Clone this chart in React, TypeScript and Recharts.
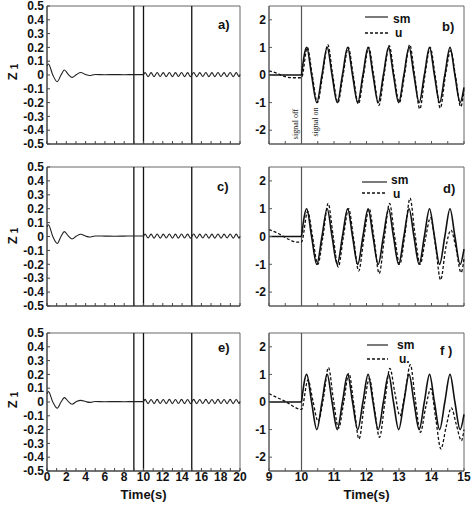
import React from 'react';
import { LineChart, Line, XAxis, YAxis, ReferenceLine, ReferenceArea, Customized } from 'recharts';

const FONT = '"Liberation Sans", Arial, Helvetica, sans-serif';
const SERIF = '"Liberation Serif", "Times New Roman", serif';

// ---------- left column: Z1 versus time ----------
const zTime = [
  0, 0.15, 0.6, 1.06, 1.45, 1.8, 2.2, 2.6, 3.05, 3.5, 4.0, 4.4, 5.0, 6.0, 7.0, 8.0, 9.0, 10.0,
  10.16, 10.47, 10.79, 11.1, 11.42, 11.73, 12.05, 12.36, 12.68, 12.99, 13.31, 13.62, 13.94, 14.25,
  14.57, 14.88, 15.2, 15.51, 15.83, 16.14, 16.46, 16.77, 17.09, 17.4, 17.72, 18.03, 18.35, 18.66,
  18.98, 19.29, 19.61, 19.92, 20,
];
const zA = [
  0.065, 0.08, 0.0, -0.048, 0.0, 0.036, 0.005, -0.017, 0.003, 0.018, 0.003, -0.004, 0.004, 0.002, 0.003, 0.002, 0.003, 0.003,
  0.018, -0.012, 0.017, -0.012, 0.018, -0.011, 0.017, -0.012, 0.018, -0.012, 0.017, -0.011,
  0.018, -0.012, 0.017, -0.012, 0.018, -0.012, 0.017, -0.011, 0.018, -0.012, 0.017, -0.012,
  0.018, -0.011, 0.017, -0.012, 0.018, -0.012, 0.017, -0.012, 0.004,
];
const zC = [
  0.07, 0.085, 0.0, -0.05, 0.0, 0.035, 0.004, -0.018, 0.003, 0.016, 0.003, -0.004, 0.004, 0.003, 0.002, 0.003, 0.004, 0.004,
  0.018, -0.011, 0.017, -0.012, 0.018, -0.012, 0.017, -0.011, 0.018, -0.012, 0.017, -0.012,
  0.018, -0.011, 0.017, -0.012, 0.018, -0.012, 0.017, -0.011, 0.018, -0.012, 0.017, -0.012,
  0.018, -0.012, 0.017, -0.011, 0.018, -0.012, 0.017, -0.012, 0.003,
];
const zE = [
  0.06, 0.075, 0.0, -0.045, 0.0, 0.032, 0.004, -0.016, 0.003, 0.012, 0.003, -0.003, 0.004, 0.002, 0.003, 0.002, 0.003, 0.003,
  0.019, -0.012, 0.018, -0.012, 0.019, -0.011, 0.018, -0.012, 0.019, -0.012, 0.018, -0.011,
  0.019, -0.012, 0.018, -0.012, 0.019, -0.012, 0.018, -0.011, 0.019, -0.012, 0.018, -0.012,
  0.019, -0.011, 0.018, -0.012, 0.019, -0.012, 0.018, -0.012, 0.004,
];
const zYTicks = [-0.5, -0.4, -0.3, -0.2, -0.1, 0, 0.1, 0.2, 0.3, 0.4, 0.5];
const zXTicks = [0, 1, 2, 3, 4, 5, 6, 7, 8, 9, 10, 11, 12, 13, 14, 15, 16, 17, 18, 19, 20];
const zEvents = [9, 10, 15];

// ---------- right column: sm and u ----------
const smPreTime = [9, 10];
const smPre = [0, 0];
const smTime = [
  10, 10.16, 10.31, 10.47, 10.63, 10.79, 10.94, 11.1, 11.26, 11.42, 11.57, 11.73, 11.89, 12.05, 12.2, 12.36,
  12.52, 12.68, 12.83, 12.99, 13.15, 13.31, 13.46, 13.62, 13.78, 13.94, 14.09, 14.25, 14.41, 14.57, 14.72, 14.88, 15,
];
const smValues = [
  0, 1, 0, -1, 0, 1, 0, -1, 0, 1, 0, -1, 0, 1, 0, -1,
  0, 1, 0, -1, 0, 1, 0, -1, 0, 1, 0, -1, 0, 1, 0, -1, -0.45,
];
const uTimeB = [
  9, 9.25, 9.5, 9.75, 10, 10.18, 10.33, 10.49, 10.65, 10.81, 10.96, 11.12, 11.28, 11.44, 11.59, 11.75, 11.91,
  12.07, 12.22, 12.38, 12.54, 12.7, 12.85, 13.01, 13.17, 13.33, 13.48, 13.64, 13.8, 13.96, 14.11, 14.27, 14.43,
  14.59, 14.74, 14.9, 15,
];
const uB = [
  0.15, 0.06, -0.06, -0.1, -0.1,
  1.0, 0.0, -1.0, 0.0,
  1.1, 0.0, -1.0, 0.0,
  1.0, 0.0, -1.05, 0.0,
  1.0, 0.0, -1.1, 0.0,
  1.06, 0.0, -1.0, 0.0,
  1.1, 0.0, -1.23, 0.0,
  1.0, 0.0, -1.2, 0.0,
  0.88, -0.05, -1.15,
  -0.55,
];
const uTimeD = [
  9, 9.3, 9.6, 9.85, 10, 10.19, 10.34, 10.5, 10.66, 10.82, 10.97, 11.13, 11.29, 11.45, 11.6, 11.76, 11.92,
  12.08, 12.23, 12.39, 12.55, 12.71, 12.86, 13.02, 13.18, 13.34, 13.49, 13.65, 13.81, 13.97, 14.12, 14.28, 14.44,
  14.6, 14.75, 14.91, 15,
];
const uD = [
  0.25, 0.1, -0.1, -0.2, -0.2,
  0.9, 0.0, -1.0, 0.0,
  1.19, 0.05, -1.1, 0.0,
  1.0, -0.05, -1.24, -0.05,
  1.0, -0.05, -1.33, -0.05,
  1.19, 0.05, -1.0, 0.05,
  1.38, 0.1, -1.0, -0.1,
  0.68, -0.3, -1.56, -0.4,
  0.23, -0.4, -1.3,
  -0.8,
];
const uTimeF = [
  9, 9.5, 10, 10.2, 10.35, 10.51, 10.67, 10.83, 10.98, 11.14, 11.3, 11.46, 11.61, 11.77, 11.93,
  12.09, 12.24, 12.4, 12.56, 12.72, 12.87, 13.03, 13.19, 13.35, 13.5, 13.66, 13.82, 13.98, 14.13, 14.29, 14.45,
  14.61, 14.76, 14.92, 15,
];
const uF = [
  0.3, 0.02, -0.27,
  0.8, 0.05, -0.7, 0.1,
  1.25, 0.1, -0.95, 0.0,
  1.04, -0.1, -1.34, -0.1,
  0.85, -0.2, -1.28, -0.05,
  1.22, 0.35, -0.5, 0.35,
  1.35, 0.1, -1.1, -0.2,
  0.48, -0.6, -1.7, -0.9,
  -0.21, -0.8, -1.4,
  -1.0,
];
const rYTicks = [-2, -1, 0, 1, 2];
const rXTicks = [9, 9.5, 10, 10.5, 11, 11.5, 12, 12.5, 13, 13.5, 14, 14.5, 15];
const signalEvent = 10;
const legendNames = ['sm', 'u'];
const panelNames = ['a)', 'b)', 'c)', 'd)', 'e)', 'f )'];

const zip = (t: number[], v: number[]) => t.map((x, i) => ({ t: x, v: v[i] }));

const tickStyle = { fontSize: 12, fontWeight: 'bold' as const, fill: '#111', fontFamily: FONT };
const textStyle = { fontSize: 13, fontWeight: 'bold' as const, fill: '#111', fontFamily: FONT };
const legendStyle = { fontSize: 12, fontWeight: 'bold' as const, fill: '#111', fontFamily: FONT };

type LeftProps = {
  top: number; height: number; values: number[]; name: string; bottom: boolean;
  nameX: number; nameY: number; zY: number;
};

function LeftPanel({ top, height, values, name, bottom, nameX, nameY, zY }: LeftProps) {
  const data = zip(zTime, values);
  return (
    <div style={{ position: 'absolute', left: 0, top, width: 256, height }}>
      <LineChart width={256} height={height} margin={{ top: 6, right: 16, left: 0, bottom: bottom ? 6 : 0 }}>
        <XAxis
          dataKey="t" type="number" domain={[0, 20]} ticks={zXTicks} interval={0}
          tickFormatter={(v: number) => (bottom && v % 2 === 0 ? String(v) : '')}
          tickSize={-3} tickMargin={4} height={bottom ? 30 : 6}
          axisLine={{ stroke: '#333' }} tickLine={{ stroke: '#444' }} tick={tickStyle}
          label={bottom ? { value: 'Time(s)', position: 'insideBottom', offset: 2, style: textStyle } : undefined}
        />
        <YAxis
          type="number" domain={[-0.5, 0.5]} ticks={zYTicks} interval={0} width={47}
          tickSize={-3} tickMargin={6} tickFormatter={(v: number) => String(v)}
          axisLine={{ stroke: '#333' }} tickLine={{ stroke: '#444' }} tick={tickStyle}
        />
        <ReferenceArea x1={0} x2={20} y1={-0.5} y2={0.5} fill="none" stroke="#666" strokeWidth={1} />
        {zEvents.map((e) => (
          <ReferenceLine key={e} x={e} stroke="#111" strokeWidth={1.3} />
        ))}
        <Line data={data} dataKey="v" type="monotone" dot={false} stroke="#222" strokeWidth={1.1} isAnimationActive={false} />
        <Customized
          component={() => (
            <g>
              <text x={nameX} y={nameY} style={textStyle}>{name}</text>
              <text
                x={12} y={zY} textAnchor="middle" dominantBaseline="central"
                transform={`rotate(-90 12 ${zY})`} style={textStyle}
              >
                Z<tspan fontSize={10} dx={3} dy={2}>1</tspan>
              </text>
            </g>
          )}
        />
      </LineChart>
    </div>
  );
}

type RightProps = {
  top: number; height: number; uTime: number[]; uValues: number[]; name: string; bottom: boolean;
  nameX: number; nameY: number;
  leg: { x1: number; x2: number; ys: number; yu: number; tx: number; bs: number; bu: number; uText: string };
  signal: boolean;
};

function RightPanel({ top, height, uTime, uValues, name, bottom, nameX, nameY, leg, signal }: RightProps) {
  const smPreData = zip(smPreTime, smPre);
  const smData = zip(smTime, smValues);
  const uData = zip(uTime, uValues);
  return (
    <div style={{ position: 'absolute', left: 240, top, width: 234, height }}>
      <LineChart width={234} height={height} margin={{ top: 6, right: 10, left: 0, bottom: bottom ? 6 : 0 }}>
        <XAxis
          dataKey="t" type="number" domain={[9, 15]} ticks={rXTicks} interval={0}
          tickFormatter={(v: number) => (bottom && Number.isInteger(v) ? String(v) : '')}
          tickSize={-3} tickMargin={4} height={bottom ? 30 : 6}
          axisLine={{ stroke: '#555' }} tickLine={{ stroke: '#555' }} tick={tickStyle}
          label={bottom ? { value: 'Time(s)', position: 'insideBottom', offset: 2, style: textStyle } : undefined}
        />
        <YAxis
          type="number" domain={[-2.5, 2.5]} ticks={rYTicks} interval={0} width={29}
          tickSize={-3} tickMargin={6} tickFormatter={(v: number) => String(v)}
          axisLine={{ stroke: '#555' }} tickLine={{ stroke: '#555' }} tick={tickStyle}
        />
        <ReferenceArea x1={9} x2={15} y1={-2.5} y2={2.5} fill="none" stroke="#666" strokeWidth={1} />
        <ReferenceLine x={signalEvent} stroke="#555" strokeWidth={1.2} />
        <Line data={smPreData} dataKey="v" type="linear" dot={false} stroke="#111" strokeWidth={1.6} isAnimationActive={false} />
        <Line data={uData} dataKey="v" type="monotone" dot={false} stroke="#111" strokeWidth={1.3} strokeDasharray="3 2" isAnimationActive={false} />
        <Line data={smData} dataKey="v" type="monotone" dot={false} stroke="#111" strokeWidth={1.6} isAnimationActive={false} />
        <Customized
          component={() => (
            <g>
              <text x={nameX} y={nameY} style={textStyle}>{name}</text>
              <line x1={leg.x1} x2={leg.x2} y1={leg.ys} y2={leg.ys} stroke="#333" strokeWidth={1.3} />
              <line x1={leg.x1} x2={leg.x2} y1={leg.yu} y2={leg.yu} stroke="#111" strokeWidth={1.3} strokeDasharray="3 2" />
              <text x={leg.tx} y={leg.bs} style={legendStyle}>{legendNames[0]}</text>
              <text x={leg.tx + 2} y={leg.bu} style={legendStyle}>{leg.uText}</text>
              {signal && (
                <g style={{ fontFamily: SERIF, fontSize: 8, fill: '#222' }}>
                  <text x={55} y={124} textAnchor="middle" dominantBaseline="central" transform="rotate(-90 55 124)">signal off</text>
                  <text x={75} y={122} textAnchor="middle" dominantBaseline="central" transform="rotate(-90 75 122)">signal on</text>
                </g>
              )}
            </g>
          )}
        />
      </LineChart>
    </div>
  );
}

export default function App() {
  return (
    <div style={{ position: 'absolute', left: 0, top: 0, width: 474, height: 505, background: '#fff', overflow: 'hidden' }}>
      <LeftPanel top={0} height={150} values={zA} name={panelNames[0]} bottom={false} nameX={218} nameY={29} zY={72} />
      <LeftPanel top={161} height={151} values={zC} name={panelNames[2]} bottom={false} nameX={217} nameY={30} zY={75} />
      <LeftPanel top={327} height={180} values={zE} name={panelNames[4]} bottom={true} nameX={218} nameY={25} zY={73} />
      <RightPanel
        top={0} height={150} uTime={uTimeB} uValues={uB} name={panelNames[1]} bottom={false} nameX={202} nameY={31}
        leg={{ x1: 125, x2: 148, ys: 17, yu: 33, tx: 153, bs: 23, bu: 37, uText: legendNames[1] }} signal={true}
      />
      <RightPanel
        top={161} height={151} uTime={uTimeD} uValues={uD} name={panelNames[3]} bottom={false} nameX={203} nameY={32}
        leg={{ x1: 122, x2: 147, ys: 21, yu: 32, tx: 151, bs: 23, bu: 37, uText: legendNames[1] }} signal={false}
      />
      <RightPanel
        top={327} height={180} uTime={uTimeF} uValues={uF} name={panelNames[5]} bottom={true} nameX={200} nameY={28}
        leg={{ x1: 127, x2: 148, ys: 18, yu: 32, tx: 157, bs: 22, bu: 36, uText: legendNames[1] + '.' }} signal={false}
      />
    </div>
  );
}
